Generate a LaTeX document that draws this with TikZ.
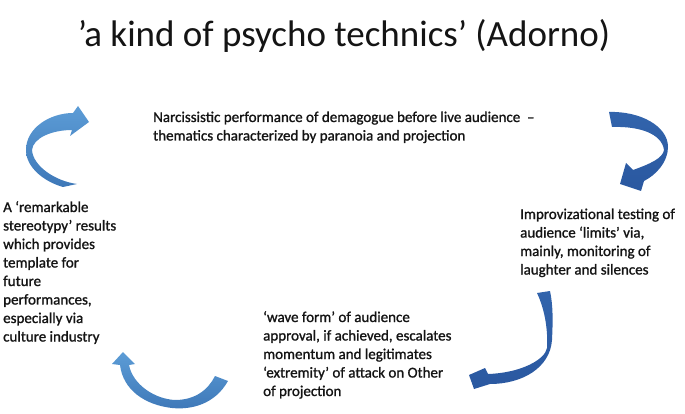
\documentclass[tikz,border=0pt]{standalone}
\usepackage{fontspec}
\setmainfont{Carlito}
\newfontfamily\bodyfont[RawFeature={embolden=1.2}]{Carlito}

\definecolor{arrowlight}{RGB}{92,156,214}
\definecolor{arrowmid}{RGB}{62,120,184}
\definecolor{arrowdark}{RGB}{50,100,172}
\definecolor{arrowdeep}{RGB}{42,88,160}
\definecolor{inktext}{RGB}{20,20,20}

\begin{document}
\begin{tikzpicture}[
    x=1pt, y=-1pt,
    every node/.style={inner sep=0pt, text=inktext},
    heading/.style={anchor=base, font=\fontsize{37}{44}\selectfont},
    blurb/.style={anchor=base west, font=\bodyfont\fontsize{15}{18.5}\selectfont},
    lightarrow/.style={draw=none, top color=arrowlight, bottom color=arrowmid},
    darkarrow/.style={draw=none, top color=arrowdark, bottom color=arrowdeep},
]

\useasboundingbox (0,0) rectangle (685,414);

% === Title ===
\node[heading] (title) at (344,47) {’a kind of psycho technics’ (Adorno)};

% === Text blocks (first baseline at the given point) ===
\node[blurb] (perform) at (153,122) {\parbox[t]{420pt}{\raggedright
    Narcissistic performance of demagogue before live audience~ –\\
    thematics characterized by paranoia and projection}};

\node[blurb] (testing) at (520,219) {\parbox[t]{170pt}{\raggedright
    Improvizational testing of\\
    audience ‘limits’ via,\\
    mainly, monitoring of\\
    laughter and silences}};

\node[blurb] (wave) at (263,322) {\parbox[t]{220pt}{\raggedright
    ‘wave form’ of audience\\
    approval, if achieved, escalates\\
    momentum and legitimates\\
    ‘extremity’ of attack on Other\\
    of projection}};

\node[blurb] (stereotypy) at (3,212) {\parbox[t]{140pt}{\raggedright
    A ‘remarkable\\
    stereotypy’ results\\
    which provides\\
    template for\\
    future\\
    performances,\\
    especially via\\
    culture industry}};

% === Curved arrow, top left (up and to the right) ===
\path[lightarrow]
    (63,187) .. controls (45,182) and (26,168) .. (26,150)   % outer, lower arm
    .. controls (26,128) and (50,113) .. (73,113)            % outer, upper arm
    -- (78,106) -- (89,122) -- (70,136)                      % head
    -- (72,130) .. controls (52,130) and (33,138) .. (32,150) % inner, upper arm
    .. controls (33,166) and (55,181) .. (77,184)            % inner, lower arm
    -- cycle;

% === Curved arrow, top right (round and down to the left) ===
\path[darkarrow]
    (609,112) .. controls (640,111) and (668,126) .. (668,147)
    .. controls (668,162) and (656,175) .. (644,181)
    -- (641,191) -- (620,184) -- (626,163)                   % head
    -- (633,170) .. controls (650,164) and (663,158) .. (664,150)
    .. controls (662,134) and (640,126) .. (612,127)
    -- cycle;

% === Curved arrow, bottom right (down and round to the left) ===
\path[darkarrow]
    (537,293) .. controls (545,310) and (548,330) .. (547,348)
    .. controls (545,360) and (520,373) .. (488,374)
    -- (485,368) -- (469,375) -- (474,389)                   % head
    -- (490,384) .. controls (522,384) and (550,368) .. (552,340)
    .. controls (553,320) and (553,305) .. (550,291)
    -- cycle;

% === Curved arrow, bottom left (round and up to the left) ===
\path[lightarrow]
    (228,381) .. controls (215,404) and (192,410) .. (172,408)
    .. controls (145,405) and (123,390) .. (120,365)
    -- (112,364) -- (123,352) -- (135,364)                   % head
    -- (129,365) .. controls (133,385) and (155,399) .. (175,400)
    .. controls (195,400) and (208,390) .. (215,376)
    -- cycle;

\end{tikzpicture}
\end{document}
